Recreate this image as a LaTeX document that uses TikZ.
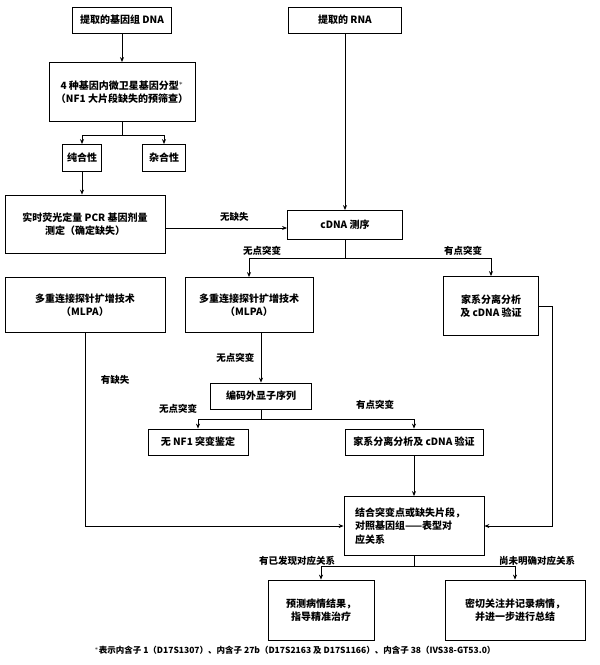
\documentclass[tikz,border=0pt]{standalone}
\usepackage{fontspec}
\setmainfont{Noto Sans CJK SC}
\usetikzlibrary{arrows.meta}
\begin{document}
\begin{tikzpicture}[x=1pt,y=-1pt,
 box/.style={draw,thick,align=center,inner sep=0pt,font=\fontsize{10}{13.5}\selectfont\bfseries},
 lab/.style={font=\fontsize{9.5}{11}\selectfont\bfseries},
 arr/.style={thick,-{Stealth[length=5pt,width=4pt]}},
 ln/.style={thick}]
\useasboundingbox (0,0) rectangle (600,665);
\node[box,minimum width=99,minimum height=26] (dna) at (122,20) {提取的基因组 DNA};
\node[box,minimum width=113,minimum height=26] (rna) at (345,20) {提取的 RNA};
\node[box,minimum width=146,minimum height=59] (ms) at (122,92) {4 种基因内微卫星基因分型$^{*}$\\（NF1 大片段缺失的预筛查）};
\node[box,minimum width=39,minimum height=27] (hom) at (82,158) {纯合性};
\node[box,minimum width=43,minimum height=27] (het) at (164,158) {杂合性};
\node[box,minimum width=160,minimum height=58] (pcr) at (85,224) {实时荧光定量 PCR 基因剂量\\测定（确定缺失）};
\node[box,minimum width=115,minimum height=29] (cdna) at (345,225) {cDNA 测序};
\node[box,minimum width=160,minimum height=55] (mlpa1) at (85,305) {多重连接探针扩增技术\\（MLPA）};
\node[box,minimum width=128,minimum height=55] (mlpa2) at (249,305) {多重连接探针扩增技术\\（MLPA）};
\node[box,minimum width=95,minimum height=59] (fam1) at (491,306) {家系分离分析\\及 cDNA 验证};
\node[box,minimum width=101,minimum height=26] (exon) at (261,396) {编码外显子序列};
\node[box,minimum width=100,minimum height=26] (nonf) at (198,442) {无 NF1 突变鉴定};
\node[box,minimum width=138,minimum height=26] (fam2) at (414,442) {家系分离分析及 cDNA 验证};
\node[box,minimum width=140,minimum height=59,align=left,text width=118] (comb) at (414,526) {结合突变点或缺失片段，\\对照基因组——表型对\\应关系};
\node[box,minimum width=106,minimum height=60] (pred) at (321,610) {预测病情结果，\\指导精准治疗};
\node[box,minimum width=140,minimum height=60] (watch) at (515,610) {密切关注并记录病情，\\并进一步进行总结};
\node[lab,font=\fontsize{8.5}{10}\selectfont\bfseries] (foot) at (295,650) {$^{*}$表示内含子 1（D17S1307）、内含子 27b（D17S2163 及 D17S1166）、内含子 38（IVS38-GT53.0）};

\draw[arr] (dna) -- (ms);
\coordinate (j1) at (122,135);
\draw[ln] (ms.south) -- (j1);
\draw[arr] (j1) -| (hom.north);
\draw[arr] (j1) -| (het.north);
\draw[arr] (hom) -- (hom|-pcr.north);
\draw[arr] (pcr.east|-228,228) -- (cdna.west|-228,228) node[lab,midway,above=3pt,xshift=8pt] {无缺失};
\draw[arr] (rna) -- (cdna);
\coordinate (j2) at (345,258);
\draw[ln] (cdna.south) -- (j2);
\draw[arr] (j2) -| (mlpa2.north);
\draw[arr] (j2) -| (fam1.north);
\node[lab] at (262,251) {无点突变};
\node[lab] at (463,251) {有点突变};
\draw[arr] (mlpa1.south) -- (85,526) -- (comb.west);
\node[lab] at (115,380) {有缺失};
\draw[arr] (mlpa2.south-|261,0) -- (exon.north) node[lab,midway,left=3pt] {无点突变};
\coordinate (j3) at (261,419);
\draw[ln] (exon.south) -- (j3);
\draw[arr] (j3) -| (nonf.north);
\draw[arr] (j3) -| (fam2.north);
\node[lab] at (178,409) {无点突变};
\node[lab] at (375,405) {有点突变};
\draw[arr] (fam2) -- (comb);
\draw[arr] (fam1.east) -- (552,306) -- (552,526) -- (comb.east);
\coordinate (j4) at (414,566);
\draw[ln] (comb.south) -- (j4);
\draw[arr] (j4) -| (pred.north);
\draw[arr] (j4) -| (watch.north);
\node[lab] at (297,561) {有已发现对应关系};
\node[lab] at (537,561) {尚未明确对应关系};
\end{tikzpicture}
\end{document}
